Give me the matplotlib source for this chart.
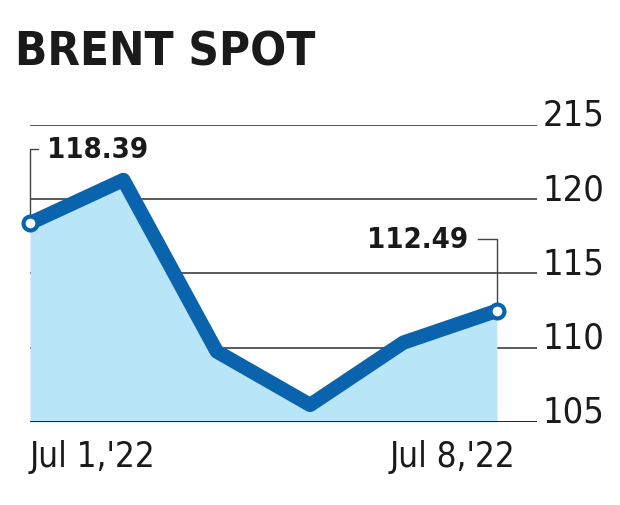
import numpy as np
import matplotlib.pyplot as plt
from matplotlib.transforms import ScaledTranslation

# =========================================================
# Data
# =========================================================
title = "BRENT SPOT"
dates = ["Jul 1,'22", "Jul 4,'22", "Jul 5,'22", "Jul 6,'22", "Jul 7,'22", "Jul 8,'22"]
prices = [118.39, 121.3, 109.75, 106.15, 110.35, 112.49]

y_ticks = [105, 110, 115, 120, 125]
y_tick_labels = ["105", "110", "115", "120", "215"]   # top label printed as 215 in the original
x_tick_idx = [0, 5]
x_tick_labels = ["Jul 1,'22", "Jul 8,'22"]

# =========================================================
# Style
# =========================================================
line_color = "#0a63ad"
fill_color = "#b9e5f9"
grid_color = "#4d4d4d"
base_color = "#222222"
text_color = "#1a1a1a"
plt.rcParams['font.family'] = ["DejaVu Sans"]
plt.rcParams['font.stretch'] = 'condensed'

fig = plt.figure(figsize=(6.2, 5.06), dpi=100)
W, H = 620, 506
ax = fig.add_axes([30 / W, (H - 423) / H, 507 / W, (423 - 126) / H])

x = np.arange(len(prices))
y = np.array(prices)

ax.set_xlim(0, 5.43)
ax.set_ylim(105, 125)

# =========================================================
# Grid + area + line
# =========================================================
for t in y_ticks:
    if t == y_ticks[0]:
        ax.axhline(t, color=base_color, lw=1.4, zorder=3)
    else:
        ax.axhline(t, color=grid_color, lw=1.3, zorder=1)

ax.fill_between(x, y, 105, color=fill_color, lw=0, zorder=2)
ax.plot(x, y, color=line_color, lw=10.3, solid_joinstyle='round',
        solid_capstyle='round', zorder=4, clip_on=False)
ax.plot(x[[0, -1]], y[[0, -1]], 'o', ms=10, mfc='white', mec=line_color,
        mew=3.0, zorder=5, clip_on=False)

# =========================================================
# Value call-outs
# =========================================================
lab_y0 = 123.36
ax.plot([x[0], x[0], x[0] + 0.086], [y[0], lab_y0, lab_y0],
        color="#444444", lw=1.0, zorder=3, clip_on=False)
ax.text(x[0] + 0.18, lab_y0, f"{y[0]:.2f}", fontsize=21, fontweight='bold',
        color=text_color, ha='left', va='center')

lab_y1 = 117.33
ax.plot([x[-1], x[-1], x[-1] - 0.20], [y[-1], lab_y1, lab_y1],
        color="#444444", lw=1.0, zorder=3, clip_on=False)
ax.text(x[-1] - 0.31, lab_y1, f"{y[-1]:.2f}", fontsize=21, fontweight='bold',
        color=text_color, ha='right', va='center')

# =========================================================
# Axes formatting
# =========================================================
for s in ax.spines.values():
    s.set_visible(False)

ax.yaxis.tick_right()
ax.set_yticks(y_ticks, y_tick_labels)
ax.tick_params(axis='y', length=0, pad=4, labelsize=26, labelcolor=text_color)
for lab in ax.get_yticklabels():
    lab.set_va('baseline')

ax.set_xticks(x[x_tick_idx], x_tick_labels)
ax.tick_params(axis='x', length=0, pad=12, labelsize=25, labelcolor=text_color)
xl = ax.get_xticklabels()
xl[0].set_ha('left')
xl[1].set_ha('right')
xl[1].set_transform(xl[1].get_transform() + ScaledTranslation(18 / 100, 0, fig.dpi_scale_trans))

fig.text(15 / W, 1 - 65 / H, title, fontsize=34, fontweight='heavy',
         color=text_color, ha='left', va='baseline')

fig.savefig("out.png", dpi=100)
